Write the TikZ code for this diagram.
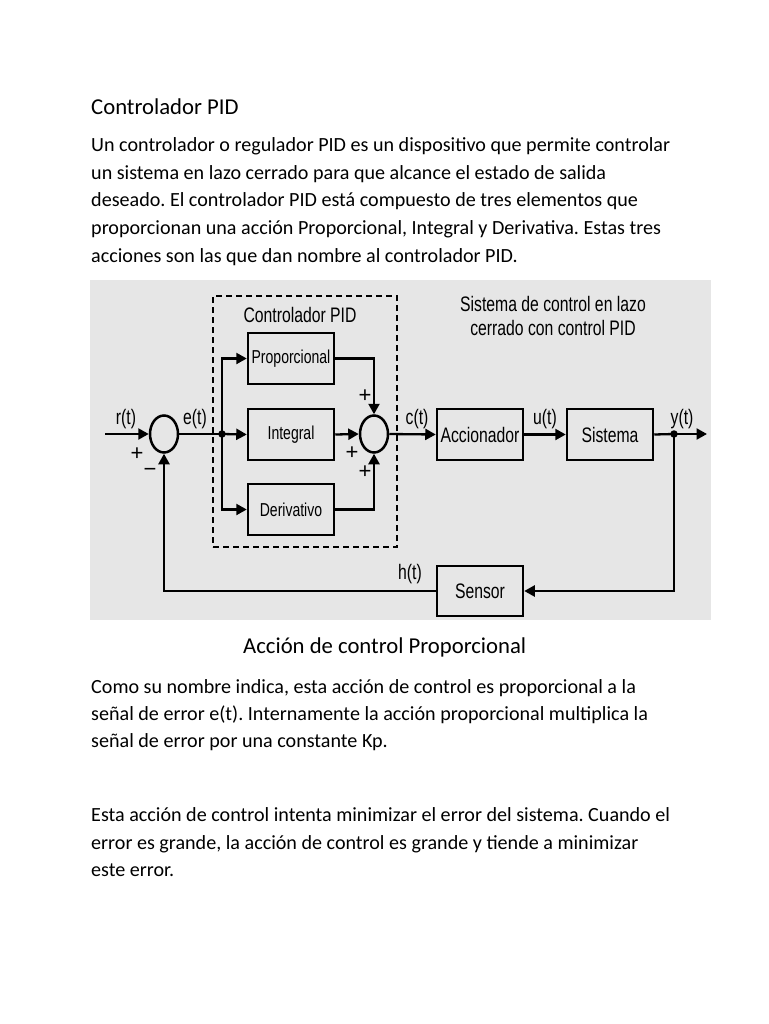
\documentclass[tikz,border=0pt]{standalone}
\usepackage{fontspec}
\setmainfont{Carlito}
\newfontfamily\diagfont{Liberation Sans}[FakeStretch=0.75]
\newfontfamily\signfont{Liberation Sans}
\usetikzlibrary{shapes.geometric,arrows.meta}
\definecolor{diagbg}{HTML}{E6E6E6}
\frenchspacing
\begin{document}
\begin{tikzpicture}[x=1pt,y=-1pt,
  body/.style={anchor=base west,inner sep=0pt,font=\fontsize{20.1}{24}\selectfont},
  head/.style={anchor=base west,inner sep=0pt,font=\fontsize{22.7}{26}\selectfont},
  blk/.style={draw,line width=2.5pt,minimum width=86pt,minimum height=51pt,inner sep=0pt,font=\diagfont\fontsize{18.7}{20}\selectfont},
  blkb/.style={blk,font=\diagfont\fontsize{21}{22}\selectfont},
  sumnode/.style={draw,ellipse,line width=2.5pt,minimum width=28pt,minimum height=37pt,inner sep=0pt},
  lbl/.style={inner sep=0pt,font=\diagfont\fontsize{21}{22}\selectfont},
  sgn/.style={inner sep=0pt,font=\signfont\fontsize{22}{22}\selectfont},
  conn/.style={line width=2.3pt},
  arr/.style={conn,-{Triangle[length=10.5pt,width=11pt]}},
  dashbox/.style={draw,line width=1.8pt,dash pattern=on 6pt off 4pt,minimum width=184pt,minimum height=251pt,inner sep=0pt},
  dotn/.style={circle,fill,inner sep=0pt,minimum size=7.5pt}]
\useasboundingbox (0,0) rectangle (768,1024);
\fill[white] (0,0) rectangle (768,1024);
% text above
\node[head] (h1) at (91,115) {Controlador PID};
\node[body] (p1) at (91,152) {Un controlador o regulador PID es un dispositivo que permite controlar};
\node[body] (p2) at (91,180) {un sistema en lazo cerrado para que alcance el estado de salida};
\node[body] (p3) at (91,207) {deseado. El controlador PID está compuesto de tres elementos que};
\node[body] (p4) at (91,235) {proporcionan una acción Proporcional, Integral y Derivativa. Estas tres};
\node[body] (p5) at (91,262) {acciones son las que dan nombre al controlador PID.};
% diagram background
\fill[diagbg] (90,280) rectangle (711,620);
\node[dashbox] (pid) at (305,421.5) {};
\node[lbl] (pidlbl) at (300,315) {Controlador PID};
\node[lbl,align=center] (title) at (553,316) {Sistema de control en lazo\\[2pt]cerrado con control PID};
\node[blk] (prop) at (291,358.5) {Proporcional};
\node[blk] (integ) at (291,434.5) {Integral};
\node[blk] (deriv) at (291,509.5) {Derivativo};
\node[blkb] (accion) at (480,434.5) {Accionador};
\node[blkb] (sist) at (610,434.5) {Sistema};
\node[blkb,minimum height=50pt] (sensor) at (480,591) {Sensor};
\node[sumnode] (s1) at (164,434) {};
\node[sumnode] (s2) at (374,434) {};
\coordinate (rin) at (105,434);
\coordinate (yout) at (707,434);
\node[dotn] (br) at (222,434) {};
\node[dotn] (yp) at (674,434) {};
% connectors
\draw[arr] (rin) -- (s1.west);
\draw[conn] (s1.east) -- (br.center);
\draw[arr] (br.center) -- (integ.west);
\draw[arr] (br.center) |- (prop.west);
\draw[arr] (br.center) |- (deriv.west);
\draw[arr] (prop.east) -| (s2.north);
\draw[arr] (integ.east) -- (s2.west);
\draw[arr] (deriv.east) -| (s2.south);
\draw[arr] (s2.east) -- (accion.west);
\draw[arr] (accion.east) -- (sist.west);
\draw[conn] (sist.east) -- (yp.center);
\draw[arr] (yp.center) -- (yout);
\draw[arr] (yp.center) |- (sensor.east);
\draw[arr] (sensor.west) -| (s1.south);
% signal labels
\node[lbl] (lr) at (126,419) {r(t)};
\node[lbl] (le) at (195,419) {e(t)};
\node[lbl] (lc) at (417,419) {c(t)};
\node[lbl] (lu) at (545,419) {u(t)};
\node[lbl] (ly) at (682,419) {y(t)};
\node[lbl] (lh) at (410,574) {h(t)};
% signs
\node[sgn] (sp1) at (137,454) {+};
\node[sgn] (sm1) at (150,472) {−};
\node[sgn] (sp2) at (365,396) {+};
\node[sgn] (sp3) at (352,453) {+};
\node[sgn] (sp4) at (365,472) {+};
% text below
\node[head] (h2) at (243,653) {Acción de control Proporcional};
\node[body] (q1) at (91,693) {Como su nombre indica, esta acción de control es proporcional a la};
\node[body] (q2) at (91,720) {señal de error e(t). Internamente la acción proporcional multiplica la};
\node[body] (q3) at (91,747) {señal de error por una constante Kp.};
\node[body] (r1) at (91,821) {Esta acción de control intenta minimizar el error del sistema. Cuando el};
\node[body] (r2) at (91,849) {error es grande, la acción de control es grande y tiende a minimizar};
\node[body] (r3) at (91,876) {este error.};
\end{tikzpicture}
\end{document}
